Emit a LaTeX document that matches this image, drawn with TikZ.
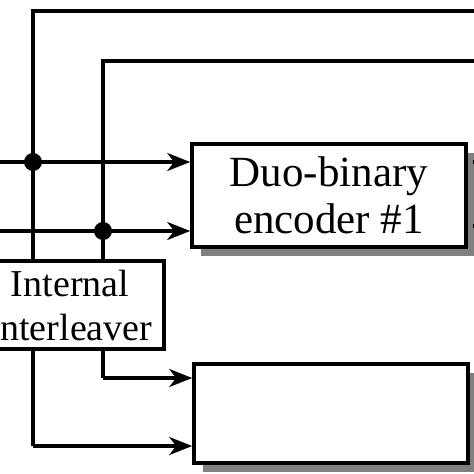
\documentclass[tikz,border=0pt]{standalone}
\usepackage{fontspec}
\setmainfont{Liberation Serif}
\usetikzlibrary{arrows.meta,shadows}
\begin{document}
\begin{tikzpicture}[x=1pt,y=-1pt,
  wire/.style={line width=3.2pt,line cap=butt,line join=miter},
  arr/.style={wire,-{Stealth[length=23pt,width=18pt,inset=7pt]}},
  blk/.style={draw,line width=3.6pt,fill=white,inner sep=0pt,align=center},
  shd/.style={drop shadow={shadow xshift=9pt,shadow yshift=-9pt,fill=black!50,opacity=1}},
  dotc/.style={fill=black}]
\useasboundingbox (0,0) rectangle (474,474);
\clip (0,0) rectangle (474,474);
% blocks
\node[blk,shd,minimum width=274pt,minimum height=103pt,
  font=\fontsize{43}{47}\selectfont] (enc1) at (329,195.5) {Duo-binary\\encoder \#1};
\node[blk,shd,minimum width=274pt,minimum height=99pt] (enc2) at (331,413.5) {};
\node[blk,minimum width=188pt,minimum height=88pt,
  font=\fontsize{38}{44}\selectfont] (il) at (70,305) {Internal\\Interleaver};
% coordinates
\coordinate (t1) at (480,11);
\coordinate (t2) at (480,61);
\coordinate (in1) at (-5,162);
\coordinate (in2) at (-5,231);
\coordinate (j1) at (33,162);
\coordinate (j2) at (103,231);
\coordinate (o1) at (103,378);
\coordinate (o2) at (33,446);
% wires
\draw[wire] (t1) -| (il.north -| j1);
\draw[wire] (t2) -| (il.north -| j2);
\draw[arr] (in1) -- (in1 -| enc1.west);
\draw[arr] (in2) -- (in2 -| enc1.west);
\draw[wire] (il.south -| j2) -- (o1);
\draw[arr] (o1) -- (o1 -| enc2.west);
\draw[wire] (il.south -| j1) -- (o2);
\draw[arr] (o2) -- (o2 -| enc2.west);
% output stubs
\coordinate (s1) at (480,162);
\coordinate (s2) at (480,226);
\draw[wire] ([xshift=5pt]enc1.east |- s1) -- (s1);
\draw[wire] ([xshift=5pt]enc1.east |- s2) -- (s2);
% junction dots
\fill[dotc] (j1) circle (9);
\fill[dotc] (j2) circle (9);
\end{tikzpicture}
\end{document}
